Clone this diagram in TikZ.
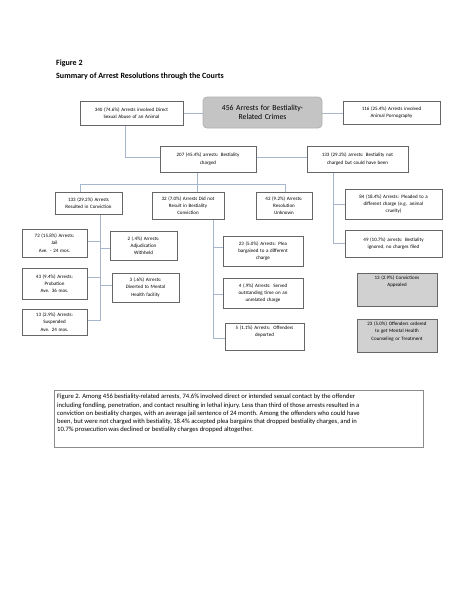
\documentclass[tikz,border=0pt]{standalone}
\usepackage{fontspec}
\setmainfont{Carlito}
\definecolor{connc}{RGB}{165,182,205}
\newcommand\bx[7][]{%
  \node[box,#1,minimum width={(#4-#2)*1pt},minimum height={(#5-#3)*1pt},text width={(#4-#2-2)*1pt}]
    (#6) at ({(#2+#4)/2},{(#3+#5)/2}) {#7};}
\newcommand\tbx[7][]{%
  \node[box,#1,minimum width={(#4-#2)*1pt},minimum height={(#5-#3)*1pt},
    label={[anchor=north,align=center,font=\fontsize{5}{7.2}\selectfont,text width={(#4-#2-2)*1pt},inner sep=1pt,yshift=-2pt]north:{#7}}]
    (#6) at ({(#2+#4)/2},{(#3+#5)/2}) {};}
\begin{document}
\begin{tikzpicture}[x=1pt,y=-1pt,
  box/.style={draw=black!60,line width=0.5pt,fill=white,align=center,inner sep=1pt,
    font=\fontsize{5}{7.2}\selectfont},
  graybox/.style={fill=black!18,draw=black!60},
  mainbox/.style={fill=black!23,draw=black!30,rounded corners=4pt,line width=0.8pt,
    font=\fontsize{7.7}{9.6}\selectfont},
  conn/.style={draw=connc,line width=0.8pt}]
\useasboundingbox[fill=white] (0,0) rectangle (474,613);
\node[anchor=base west,font=\bfseries\fontsize{8}{9.6}\selectfont,inner sep=0pt] (t1) at (56,65) {Figure 2};
\node[anchor=base west,font=\bfseries\fontsize{8}{9.6}\selectfont,inner sep=0pt] (t2) at (56,78) {Summary of Arrest Resolutions through the Courts};
% connectors
\draw[conn] (80,113) -- (203,113);
\draw[conn] (322,113) -- (343,113);
\draw[conn] (125,125) |- (160,157);
\draw[conn] (256,157) -- (307,157);
\draw[conn] (197,172) -- (197,192);
\coordinate (bl) at (80,184); \coordinate (br) at (285,184);
\draw[conn] (80,192) -- (bl) -- (br) -- (285,192);
\coordinate (cvb) at (100,320);
\draw[conn] (100,214) -- (cvb) -- (87,320);
\draw[conn] (100,241) -- (87,241);
\draw[conn] (100,277) -- (87,277);
\draw[conn] (100,248) -- (110,248);
\draw[conn] (100,285) -- (112,285);
\coordinate (ncb) at (213,338);
\draw[conn] (213,219) -- (ncb) -- (225,338);
\draw[conn] (213,247) -- (223,247);
\draw[conn] (213,294) -- (223,294);
\coordinate (nb) at (333,243);
\draw[conn] (333,172) -- (nb) -- (345,243);
\draw[conn] (333,204) -- (345,204);
% boxes
\bx{80}{101}{183}{125}{A}{340 (74.6\%) Arrests involved Direct\\Sexual Abuse of an Animal}
\bx[mainbox]{203}{97}{322}{128}{C}{456 Arrests for Bestiality-\\Related Crimes}
\bx{343}{101}{440}{124}{R}{116 (25.4\%) Arrests involved\\Animal Pornography}
\bx{160}{146}{256}{172}{B207}{207 (45.4\%) arrests: Bestiality\\charged}
\bx{307}{146}{408}{172}{NC}{133 (29.2\%) arrests: Bestiality not\\charged but could have been}
\bx{55}{192}{122}{214}{CV}{133 (29.2\%) Arrests\\Resulted in Conviction}
\bx{152}{192}{224}{219}{B32}{32 (7.0\%) Arrests Did not\\Result in Bestiality\\Conviction}
\bx{256}{192}{312}{219}{B42}{42 (9.2\%) Arrests:\\Resolution\\Unknown}
\bx{345}{189}{442}{219}{B84}{84 (18.4\%) Arrests: Pleaded to a\\different charge (e.g. animal\\cruelty)}
\bx{345}{230}{442}{257}{B49}{49 (10.7\%) arrests: Bestiality\\ignored, no charges filed}
\tbx[graybox]{357}{273}{437}{306}{G13}{13 (2.9\%) Convictions\\Appealed}
\tbx[graybox]{357}{319}{437}{352}{G23}{23 (5.0\%) Offenders ordered\\to get Mental Health\\Counseling or Treatment}
\bx{22}{229}{87}{257}{B72}{72 (15.8\%) Arrests:\\Jail\\Ave. - 24 mos.}
\bx{22}{268}{87}{299}{B43}{43 (9.4\%) Arrests:\\Probation\\Ave. 36 mos.}
\bx{22}{309}{87}{335}{B13}{13 (2.9\%) Arrests:\\Suspended\\Ave. 24 mos.}
\bx{110}{231}{177}{260}{B2}{2 (.4\%) Arrests:\\Adjudication\\Withheld}
\bx{112}{273}{179}{302}{B3}{3 (.6\%) Arrests:\\Diverted to Mental\\Health facility}
\bx{223}{236}{303}{266}{B23}{23 (5.0\%) Arrests: Plea\\bargained to a different\\charge}
\bx{223}{278}{303}{308}{B4}{4 (.9\%) Arrests: Served\\outstanding time on an\\unrelated charge}
\tbx{225}{323}{304}{350}{B5}{5 (1.1\%) Arrests:\ \ Offenders\\deported}
% caption
\node[draw=black!45,line width=0.8pt,minimum width=369pt,minimum height=57pt,anchor=north west,inner sep=0pt] (cap) at (54,390) {};
\node[anchor=north west,align=left,inner sep=0pt,font=\fontsize{6.6}{8.25}\selectfont] (captext) at (57,394)
{Figure 2. Among 456 bestiality-related arrests, 74.6\% involved direct or intended sexual contact by the offender\\
including fondling, penetration, and contact resulting in lethal injury. Less than third of those arrests resulted in a\\
conviction on bestiality charges, with an average jail sentence of 24 month. Among the offenders who could have\\
been, but were not charged with bestiality, 18.4\% accepted plea bargains that dropped bestiality charges, and in\\
10.7\% prosecution was declined or bestiality charges dropped altogether.};
\end{tikzpicture}
\end{document}
